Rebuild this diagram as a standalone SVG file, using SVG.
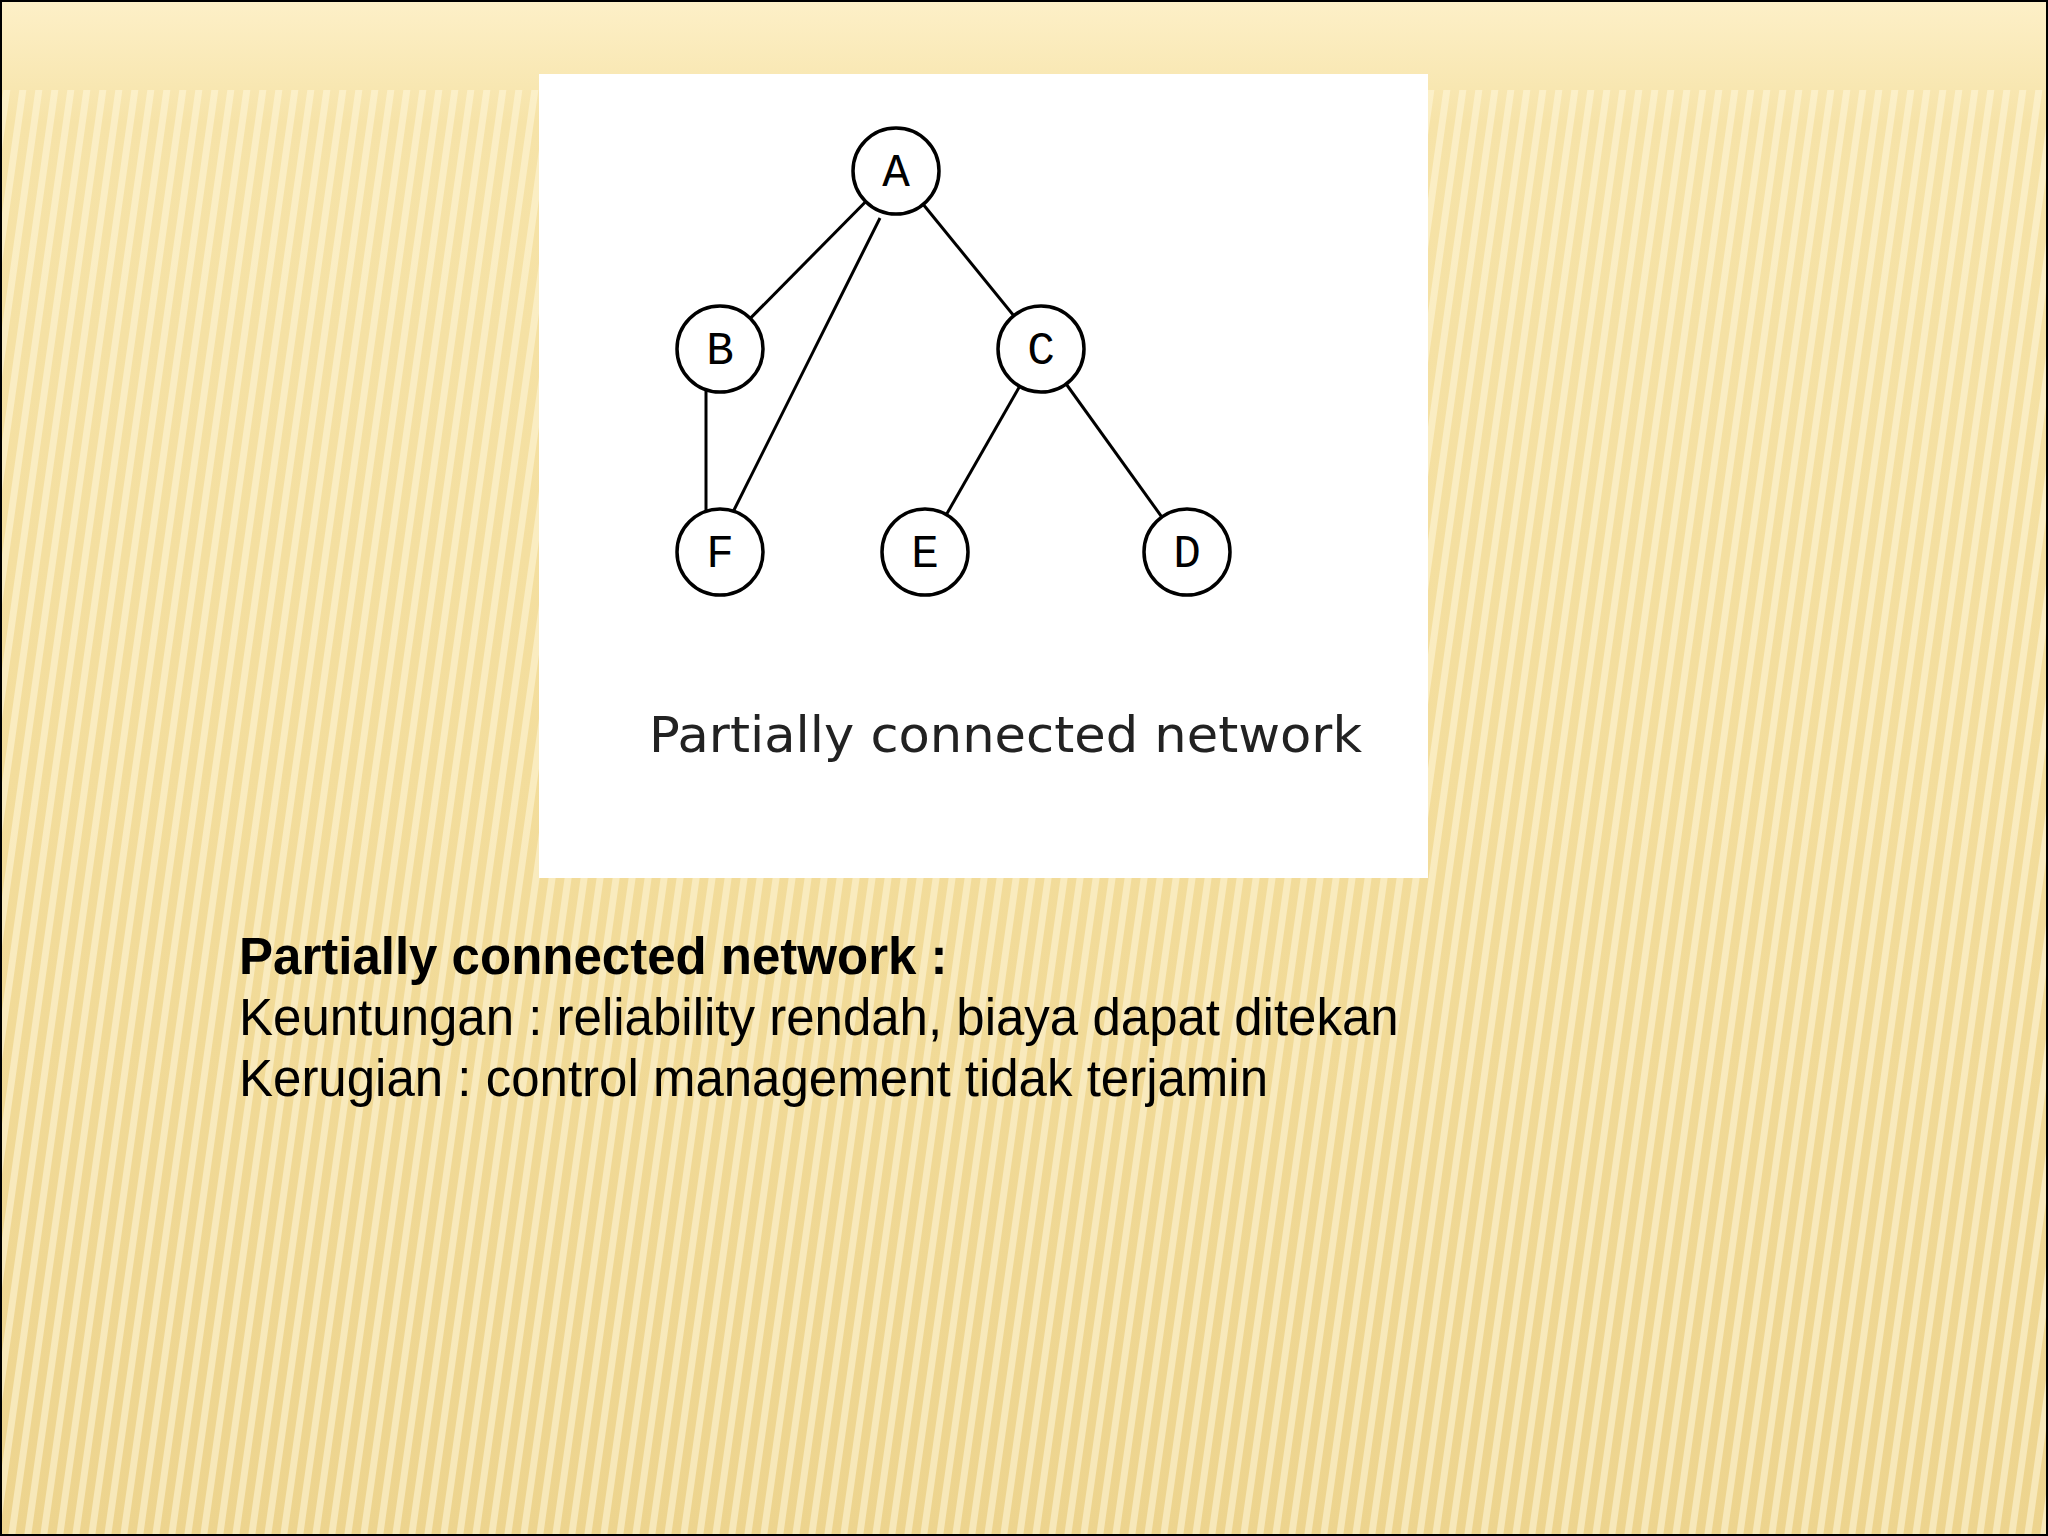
<svg xmlns="http://www.w3.org/2000/svg" width="2048" height="1536" viewBox="0 0 2048 1536">
<defs>
<linearGradient id="bg" x1="0" y1="0" x2="0" y2="1">
<stop offset="0" stop-color="#fdf0c8"/>
<stop offset="0.08" stop-color="#f6e3a8"/>
<stop offset="0.5" stop-color="#f3dd9c"/>
<stop offset="1" stop-color="#edd48e"/>
</linearGradient>
<pattern id="stripes" width="16" height="1536" patternUnits="userSpaceOnUse" patternTransform="skewX(-8)">
<rect x="0" y="0" width="7" height="1536" fill="#fff8dc" opacity="0.55"/>
</pattern>
<style>
.edge{stroke:#000;stroke-width:3;fill:none}
.node circle{fill:#fff;stroke:#000;stroke-width:3.5}
.node text{font-family:"Courier New","Liberation Mono",monospace;font-size:46px;text-anchor:middle;fill:#000}
.body{font-family:"Liberation Sans",Arial,sans-serif;font-size:51px;fill:#000}
</style>
</defs>
<rect width="2048" height="1536" fill="url(#bg)"/>
<rect y="90" width="2048" height="1446" fill="url(#stripes)"/>
<rect x="1" y="1" width="2046" height="1534" fill="none" stroke="#000" stroke-width="2"/>
<rect x="539" y="74" width="889" height="804" fill="#fff"/>
<g id="connectors">
<line class="edge" x1="896" y1="171" x2="720" y2="349"/>
<line class="edge" x1="880" y1="218" x2="733" y2="512"/>
<line class="edge" x1="896" y1="171" x2="1041" y2="349"/>
<line class="edge" x1="706" y1="390" x2="706" y2="512"/>
<line class="edge" x1="1041" y1="349" x2="925" y2="552"/>
<line class="edge" x1="1041" y1="349" x2="1187" y2="552"/>
</g>
<g id="A" class="node"><circle cx="896" cy="171" r="43"/><text x="896" y="186">A</text></g>
<g id="B" class="node"><circle cx="720" cy="349" r="43"/><text x="720" y="364">B</text></g>
<g id="C" class="node"><circle cx="1041" cy="349" r="43"/><text x="1041" y="364">C</text></g>
<g id="F" class="node"><circle cx="720" cy="552" r="43"/><text x="720" y="567">F</text></g>
<g id="E" class="node"><circle cx="925" cy="552" r="43"/><text x="925" y="567">E</text></g>
<g id="D" class="node"><circle cx="1187" cy="552" r="43"/><text x="1187" y="567">D</text></g>
<text x="649" y="752" font-family="DejaVu Sans,sans-serif" font-size="50" fill="#222" textLength="713" lengthAdjust="spacingAndGlyphs">Partially connected network</text>
<text class="body" x="239" y="974" font-weight="bold">Partially connected network :</text>
<text class="body" x="239" y="1035">Keuntungan : reliability rendah, biaya dapat ditekan</text>
<text class="body" x="239" y="1096">Kerugian : control management tidak terjamin</text>
</svg>
